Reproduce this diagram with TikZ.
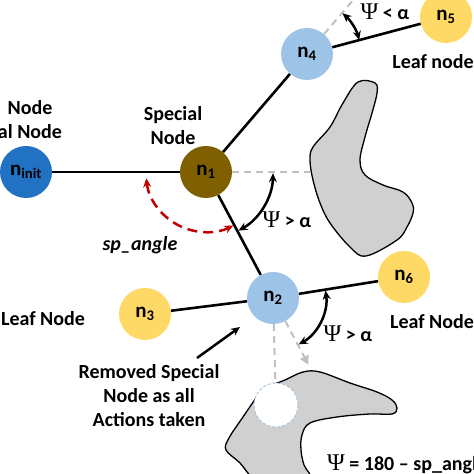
\documentclass[tikz,border=0pt]{standalone}
\usepackage{fontspec}
\setmainfont{Carlito}
\newfontfamily\psifont{Liberation Serif}
\newcommand{\psisym}{{\psifont\mdseries\fontsize{24}{24}\selectfont Ψ}}
\usetikzlibrary{arrows.meta,calc}
\definecolor{initblue}{HTML}{2272C3}
\definecolor{specbrown}{HTML}{7F6000}
\definecolor{lightblue}{HTML}{9DC3E6}
\definecolor{leafyellow}{HTML}{FFD966}
\definecolor{dashgray}{HTML}{C0C0C0}
\definecolor{blobgray}{HTML}{D0D0D0}
\definecolor{arcred}{HTML}{C00000}
\definecolor{remborder}{HTML}{A9C9E3}
\begin{document}
\begin{tikzpicture}[x=1pt,y=1pt,
  circ/.style={circle,minimum size=52pt,inner sep=0pt,font=\bfseries\fontsize{21}{24}\selectfont},
  lbl/.style={font=\bfseries\fontsize{20}{24}\selectfont,align=center,inner sep=0pt},
  edge/.style={line width=2.6pt,black},
  graydash/.style={line width=2pt,color=dashgray,dash pattern=on 7pt off 5pt},
  angarr/.style={line width=2.5pt,{Stealth[length=9pt,width=8pt]}-{Stealth[length=9pt,width=8pt]}},
  redarc/.style={line width=2.5pt,color=arcred,dash pattern=on 10pt off 6pt,{Stealth[length=9pt,width=8pt]}-{Stealth[length=9pt,width=8pt]}},
  blob/.style={fill=blobgray,draw=black,line width=1.3pt},
]
\useasboundingbox (0,0) rectangle (474,474);
\clip (0,0) rectangle (474,474);

% obstacles
\draw[blob] plot[smooth cycle,tension=0.6] coordinates {
 (358,392) (375,391) (377,381) (372,361) (365,337) (360,314) (365,299)
 (383,289) (403,282) (412,271) (413,261) (407,247) (397,234) (366,218)
 (350,227) (330,251) (320,271) (313,294) (310,314) (313,327) (330,347) (343,371)};
\draw[blob] plot[smooth cycle,tension=0.6] coordinates {
 (285,94) (303,102) (320,102) (350,91) (377,82) (392,74) (397,66) (392,60)
 (370,60) (337,57) (310,51) (302,39) (301,24) (304,9) (310,-6) (280,-16)
 (255,-6) (240,11) (226,24) (229,36) (243,57) (257,77) (268,87)};

% nodes
\node[circ,fill=initblue] (ninit) at (26,302) {n\textsubscript{init}};
\node[circ,fill=specbrown] (n1) at (206,302) {n\textsubscript{1}};
\node[circ,fill=lightblue] (n4) at (307,420) {n\textsubscript{4}};
\node[circ,fill=leafyellow] (n5) at (446,457) {n\textsubscript{5}};
\node[circ,fill=lightblue] (n2) at (273,176) {n\textsubscript{2}};
\node[circ,fill=leafyellow] (n6) at (404,197) {n\textsubscript{6}};
\node[circ,fill=leafyellow] (n3) at (145,160) {n\textsubscript{3}};
\node[circle,minimum size=44pt,inner sep=0pt,fill=white,draw=remborder,line width=1pt,dash pattern=on 3pt off 2pt] (rem) at (276,69) {};

% gray dashed guides
\coordinate (e1) at (310,302);
\coordinate (e4) at ($(n4)!-0.5!(n1)$);
\coordinate (e2) at ($(n2)!-0.53!(n1)$);
\draw[graydash] (n1) -- (e1);
\draw[graydash] (n4) -- (e4);
\draw[graydash] (n2) -- (rem);
\draw[graydash,-{Triangle[length=9pt,width=9pt,fill=dashgray]}] (n2) -- (e2);

% edges
\draw[edge] (ninit) -- (n1);
\draw[edge] (n1) -- (n4);
\draw[edge] (n1) -- (n2);
\draw[edge] (n4) -- (n5);
\draw[edge] (n2) -- (n3);
\draw[edge] (n2) -- (n6);

% angle arcs
\draw[redarc] ($(n1)+(186:60)$) arc[start angle=186,end angle=297,radius=60];
\draw[angarr] ($(n1)+(-1:67)$) arc[start angle=-1,end angle=-61,radius=67];
\draw[angarr] ($(n4)+(49:54)$) arc[start angle=49,end angle=15,radius=54];
\draw[angarr] ($(n2)+(8:53)$) arc[start angle=8,end angle=-61,radius=53];

% labels
\node[lbl] (linit) at (30,354) {Node\\al Node};
\node[lbl] (lspec) at (173,348) {Special\\Node};
\node[lbl] (lsp) at (140,229) {\itshape sp\_angle};
\node[lbl] (lleaf3) at (43,155) {Leaf Node};
\node[lbl] (lleaf5) at (433,412) {Leaf node};
\node[lbl] (lleaf6) at (432,152) {Leaf Node};
\node[lbl] (lrem) at (149,78) {Removed Special\\Node as all\\Actions taken};
\node[lbl] (lpsi1) at (287,254) {\psisym{} > α};
\node[lbl] (lpsi4) at (385,462) {\psisym{} < α};
\node[lbl] (lpsi2) at (348,140) {\psisym{} > α};
\node[lbl,anchor=base west] (lform) at (327,3) {\psisym{} = 180 – sp\_angle};

\coordinate (ra) at (197,116);
\coordinate (rb) at (240,147);
\draw[line width=2.5pt,-{Stealth[length=9pt,width=8pt]}] (ra) -- (rb);
\end{tikzpicture}
\end{document}
